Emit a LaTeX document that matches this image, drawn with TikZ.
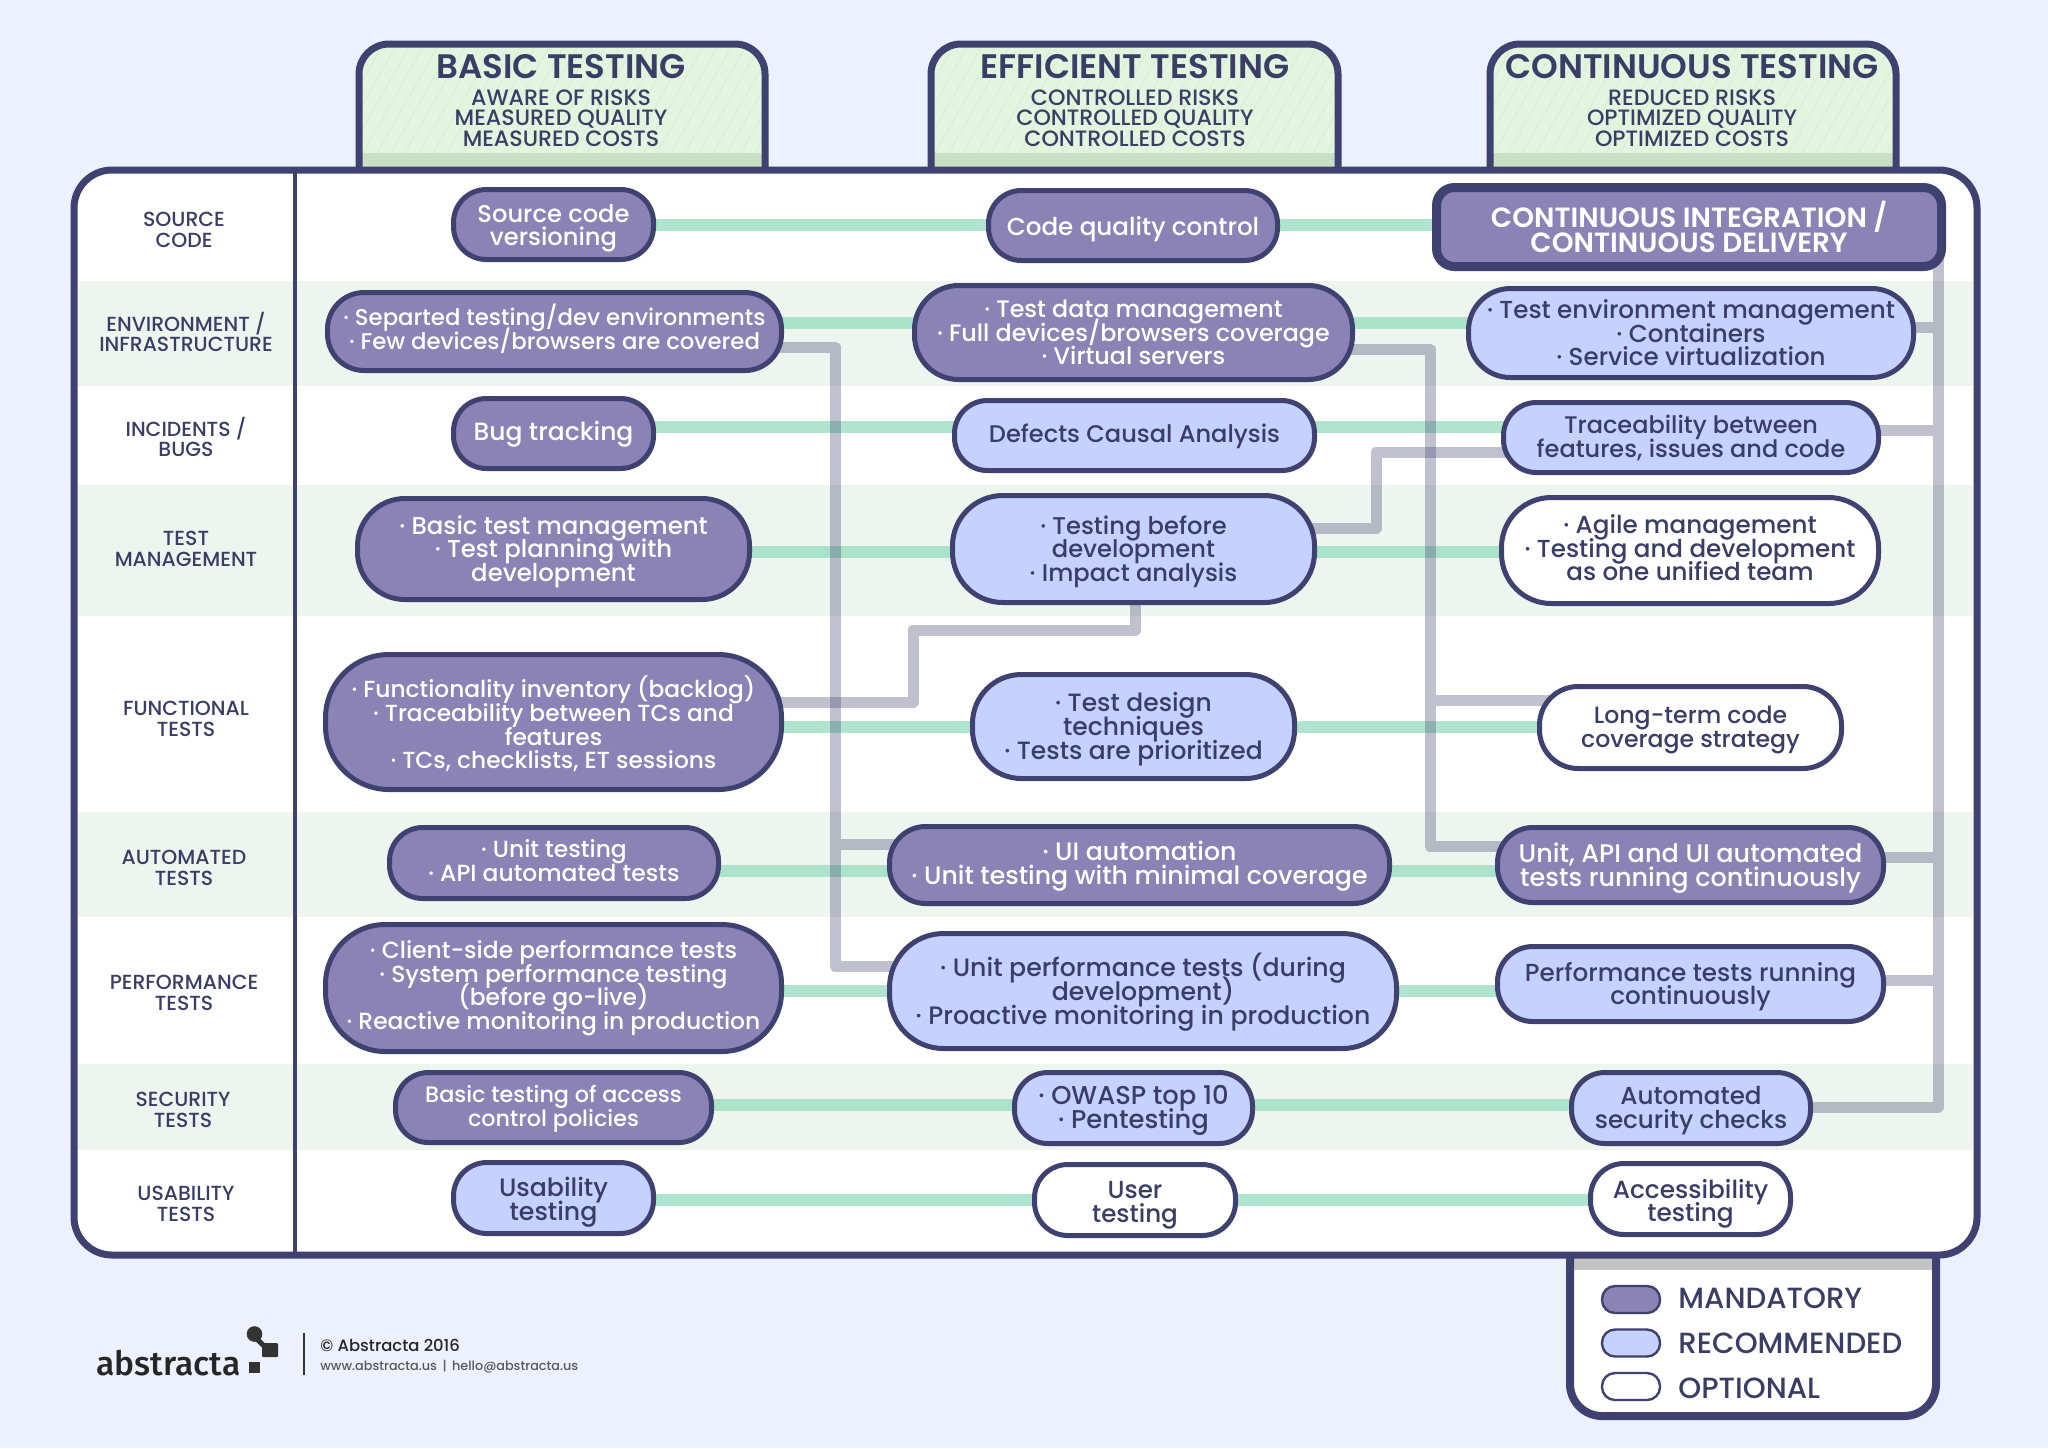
\documentclass[tikz,border=0pt]{standalone}
\usepackage{fontspec}
\setmainfont{Poppins}[UprightFont=* Medium,BoldFont=* SemiBold]
\newfontfamily\logofont{Fira Sans}[UprightFont=* Medium]
\usetikzlibrary{calc}
\pgfdeclarelayer{nodelayer}
\pgfsetlayers{main,nodelayer}
\lineskiplimit=-30pt
\definecolor{bgc}{HTML}{EDF0FD}
\definecolor{ink}{HTML}{3F4170}
\definecolor{txt}{HTML}{3A3D66}
\definecolor{mand}{HTML}{8B83B6}
\definecolor{reco}{HTML}{C5D2FD}
\definecolor{band}{HTML}{EEF5EE}
\definecolor{hdrc}{HTML}{E3F4DF}
\definecolor{hdrb}{HTML}{C8E0C4}
\definecolor{hatc}{HTML}{DAEDD6}
\definecolor{greenl}{HTML}{8EDBBC}
\definecolor{grayl}{HTML}{4B4B76}
\tikzset{
  box/.style={draw=ink,line width=2.5pt,inner sep=0pt,align=center},
  mandatory/.style={box,fill=mand,text=white},
  recommended/.style={box,fill=reco,text=txt},
  optional/.style={box,fill=white,text=txt},
  cicd/.style={draw=ink,line width=4.5pt,fill=mand,text=white,inner sep=0pt,align=center,
     font=\fontsize{13.9}{12.6}\selectfont\bfseries},
  rowlabel/.style={text=txt,align=center,inner sep=0pt,font=\fontsize{10.2}{10.2}\selectfont},
  htitle/.style={text=txt,inner sep=0pt,font=\fontsize{17}{16}\selectfont\bfseries},
  hsub/.style={text=txt,inner sep=0pt,align=center,font=\fontsize{11.1}{10.2}\selectfont},
  legtxt/.style={text=txt,inner sep=0pt,anchor=west,font=\fontsize{14.6}{14}\selectfont},
  green link/.style={line width=6pt,draw=greenl,draw opacity=.7},
  gray link/.style={line width=5.5pt,draw=grayl,draw opacity=.35,line join=round},
  swatch/.style={draw=ink,line width=1.2pt,rounded corners=6.5pt,minimum width=29pt,minimum height=13.5pt,inner sep=0pt},
}
% [font size] name, style, x1, y1, x2, y2 (outer bounds in pixels), text drop in pt, text
\newcommand{\nd}[9][12.3]{%
  \pgfmathsetmacro{\cxx}{(#4+#6)/2}\pgfmathsetmacro{\cyy}{(#5+#7)/2}%
  \pgfmathsetmacro{\ww}{(#6-#4)/2-2.5}\pgfmathsetmacro{\hh}{(#7-#5)/2-2.5}%
  \pgfmathsetmacro{\rr}{0.47*\hh}%
  \node[#3,font=\fontsize{#1}{11.8}\selectfont,minimum width=\ww pt,minimum height=\hh pt,rounded corners=\rr pt] (#2) at (\cxx,\cyy)
    {\raisebox{-#8pt}[\height][\depth]{\parbox{\ww pt}{\baselineskip=11.8pt\lineskiplimit=-30pt\centering #9}}};%
}
\newcommand{\hdr}[6]{% key, x1, x2, title, sublines, cx
  \begin{scope}
    \clip[rounded corners=15pt] (#2,230) -- (#2,44) -- (#3,44) -- (#3,230) -- cycle;
    \fill[hdrc] (#2,40) rectangle (#3,170);
    \foreach \k in {-80,-66,...,420} {\draw[hatc,line width=.5pt] ({#2+\k},153) -- ({#2+\k+62},44);}
    \fill[hdrb] (#2,153) rectangle (#3,170);
  \end{scope}
  \draw[ink,line width=3.5pt,rounded corners=15pt] (#2,170) -- (#2,44) -- (#3,44) -- (#3,170);
  \node[htitle] (t#1) at (#6,67) {#4};
  \node[hsub] (s#1) at (#6,118) {#5};
}
\begin{document}
\begin{tikzpicture}[x=0.5pt,y=-0.5pt]
\useasboundingbox (0,0) rectangle (2048,1448);
\fill[bgc] (0,0) rectangle (2048,1448);
% headers
\hdr{a}{359}{765}{BASIC TESTING}{AWARE OF RISKS\\MEASURED QUALITY\\MEASURED COSTS}{561}
\hdr{b}{931}{1338}{EFFICIENT TESTING}{CONTROLLED RISKS\\CONTROLLED QUALITY\\CONTROLLED COSTS}{1135}
\hdr{c}{1490}{1896}{CONTINUOUS TESTING}{REDUCED RISKS\\OPTIMIZED QUALITY\\OPTIMIZED COSTS}{1692}
% legend box
\fill[white,rounded corners=16pt] (1570,1240) -- (1570,1416) -- (1936,1416) -- (1936,1240) -- cycle;
\fill[white!77!black] (1570,1250) rectangle (1936,1270);
\draw[ink,line width=4pt,rounded corners=16pt] (1570,1240) -- (1570,1416) -- (1936,1416) -- (1936,1240);
% main frame
\fill[white,rounded corners=19pt] (74,170) rectangle (1977,1255);
\foreach \a/\b in {281/386,485/616,812/917,1064/1150} {\fill[band] (78,\a) rectangle (1973,\b);}
\draw[ink,line width=3.5pt,rounded corners=19pt] (74,170) rectangle (1977,1255);
\coordinate (divtop) at (295,170);
\coordinate (divbot) at (295,1255);
\draw[ink,line width=2pt] (divtop) -- (divbot);
% row labels
\node[rowlabel] (l1) at (184,230) {SOURCE\\CODE};
\node[rowlabel] (l2) at (186,332) {ENVIRONMENT /\\INFRASTRUCTURE};
\node[rowlabel] (l3) at (186,437) {INCIDENTS /\\BUGS};
\node[rowlabel] (l4) at (186,549) {TEST\\MANAGEMENT};
\node[rowlabel] (l5) at (186,719) {FUNCTIONAL\\TESTS};
\node[rowlabel] (l6) at (184,868) {AUTOMATED\\TESTS};
\node[rowlabel] (l7) at (184,993) {PERFORMANCE\\TESTS};
\node[rowlabel] (l8) at (183,1110) {SECURITY\\TESTS};
\node[rowlabel] (l9) at (186,1204) {USABILITY\\TESTS};
% nodes
\begin{pgfonlayer}{nodelayer}
\nd[12.1]{n11}{mandatory}{451}{187}{656}{262}{2}{Source code\\versioning}
\nd[12.3]{n12}{mandatory}{986}{188}{1280}{263}{2}{Code quality control}
\node[cicd,minimum width=252.5pt,minimum height=39.5pt,rounded corners=9pt] (n13) at (1689,227) {CONTINUOUS INTEGRATION /\\CONTINUOUS DELIVERY};
\nd[11.4]{n21}{mandatory}{325}{290}{784}{373}{-1.3}{· Separted testing/dev environments\\· Few devices/browsers are covered}
\nd[11.9]{n22}{mandatory}{912}{283}{1355}{382}{0}{· Test data management\\· Full devices/browsers coverage\\· Virtual servers}
\nd[12.3]{n23}{recommended}{1466}{286}{1916}{380}{0}{· Test environment management\\· Containers\\· Service virtualization}
\nd[12.5]{n31}{mandatory}{451}{396}{656}{471}{.6}{Bug tracking}
\nd[12.05]{n32}{recommended}{952}{398}{1317}{473}{.6}{Defects Causal Analysis}
\nd[12.0]{n33}{recommended}{1501}{400}{1881}{475}{.3}{Traceability between\\features, issues and code}
\nd[12.2]{n41}{mandatory}{355}{496}{752}{602}{1.3}{· Basic test management\\· Test planning with\\development}
\nd[12.1]{n42}{recommended}{950}{493}{1317}{605}{1.3}{· Testing before\\development\\· Impact analysis}
\nd[12.3]{n43}{optional}{1499}{495}{1881}{606}{-1.3}{· Agile management\\· Testing and development\\as one unified team}
\nd[11.65]{n51}{mandatory}{323}{652}{784}{792}{1}{· Functionality inventory (backlog)\\· Traceability between TCs and\\features\\· TCs, checklists, ET sessions}
\nd[12.5]{n52}{recommended}{970}{672}{1297}{781}{1.3}{· Test design\\techniques\\· Tests are prioritized}
\nd[11.8]{n53}{optional}{1537}{684}{1844}{771}{1.3}{Long-term code\\coverage strategy}
\nd[11.7]{n61}{mandatory}{387}{825}{721}{901}{-1.3}{· Unit testing\\· API automated tests}
\nd[12.6]{n62}{mandatory}{887}{824}{1392}{906}{.6}{· UI automation\\· Unit testing with minimal coverage}
\nd[12.75]{n63}{mandatory}{1495}{825}{1886}{905}{1.6}{Unit, API and UI automated\\tests running continuously}
\nd[11.7]{n71}{mandatory}{323}{922}{784}{1054}{0}{· Client-side performance tests\\· System performance testing\\(before go-live)\\· Reactive monitoring in production}
\nd[12.6]{n72}{recommended}{887}{931}{1399}{1051}{.6}{· Unit performance tests (during\\development)\\· Proactive monitoring in production}
\nd[12.35]{n73}{recommended}{1495}{944}{1886}{1024}{1.3}{Performance tests running\\continuously}
\nd[11.15]{n81}{mandatory}{393}{1070}{714}{1145}{.6}{Basic testing of access\\control policies}
\nd[12.9]{n82}{recommended}{1012}{1070}{1255}{1146}{1.3}{· OWASP top 10\\· Pentesting}
\nd[12.3]{n83}{recommended}{1569}{1070}{1813}{1146}{1.3}{Automated\\security checks}
\nd[12.6]{n91}{recommended}{451}{1160}{656}{1236}{2}{Usability\\testing}
\nd[12.3]{n92}{optional}{1032}{1162}{1238}{1238}{2.6}{User\\testing}
\nd[12.4]{n93}{optional}{1588}{1161}{1793}{1237}{2.3}{Accessibility\\testing}
\end{pgfonlayer}
% green connectors
\foreach \a/\b/\c/\y in {n11/n12/n13/225,n21/n22/n23/323,n31/n32/n33/427,n41/n42/n43/552,n51/n52/n53/727,n61/n62/n63/871,n71/n72/n73/991,n81/n82/n83/1105,n91/n92/n93/1200}
  {\draw[green link] (\a.center |- 0,\y) -- (\b.center |- 0,\y);
   \draw[green link] (\b.center |- 0,\y) -- (\c.center |- 0,\y);}
% gray connectors
\coordinate (a1) at (835,347);
\coordinate (a2) at (835,844);
\coordinate (a3) at (835,966);
\draw[gray link] (n21.center |- a1) -- (a1) -- (a3) -- (n72.center |- a3) (a2) -- (n62.center |- a2);
\coordinate (b1) at (1430,349);
\coordinate (b2) at (1430,700);
\coordinate (b3) at (1430,846);
\draw[gray link] (n22.center |- b1) -- (b1) -- (b3) -- (n63.center |- b3) (b2) -- (n53.center |- b2);
\coordinate (c1) at (1376,528);
\coordinate (c2) at (1376,452);
\draw[gray link] (n42.center |- c1) -- (c1) -- (c2) -- (n33.center |- c2);
\coordinate (d1) at (913,702);
\coordinate (d2) at (913,630);
\coordinate (d3) at (1135,630);
\draw[gray link] (n51.center |- d1) -- (d1) -- (d2) -- (d3) -- (n42.center -| d3);
\coordinate (e1) at (1938,227);
\coordinate (e2) at (1938,1107);
\draw[gray link] (n13.center -| e1) -- (e2) -- (n83.center |- e2)
  (n23.center |- 0,327) -- (1938,327)
  (n33.center |- 0,430) -- (1938,430)
  (n63.center |- 0,857) -- (1938,857)
  (n73.center |- 0,980) -- (1938,980);
% legend
\node[swatch,fill=mand] (s1) at (1631,1299.5) {};
\node[swatch,fill=reco] (s2) at (1631,1343) {};
\node[swatch,fill=white] (s3) at (1631,1386.5) {};
\node[legtxt] (m1) at (1678,1298) {MANDATORY};
\node[legtxt] (m2) at (1678,1343) {RECOMMENDED};
\node[legtxt] (m3) at (1678,1388) {OPTIONAL};
% footer
\node[anchor=base west,inner sep=0pt,text=black!85,font=\logofont\fontsize{16.8}{18}\selectfont] (logo) at (96,1375) {abstracta};
\fill[black!80] (254.5,1334) circle (3.9pt);
\fill[black!80,rounded corners=.5pt] (262,1343) rectangle (278,1357);
\draw[black!80,line width=2.5pt] (256,1338) -- (265,1347);
\fill[black!80] (249,1362) rectangle (260,1373);
\coordinate (r1) at (304,1333);
\coordinate (r2) at (304,1375);
\draw[black!80,line width=1pt] (r1) -- (r2);
\node[anchor=west,inner sep=0pt,text=black!85,font=\fontsize{8.2}{9}\selectfont] (f1) at (320,1345) {© Abstracta 2016};
\node[anchor=west,inner sep=0pt,text=black!65,font=\fontsize{6.4}{8}\selectfont] (f2) at (320,1367) {www.abstracta.us \,|\, hello@abstracta.us};
\end{tikzpicture}
\end{document}
